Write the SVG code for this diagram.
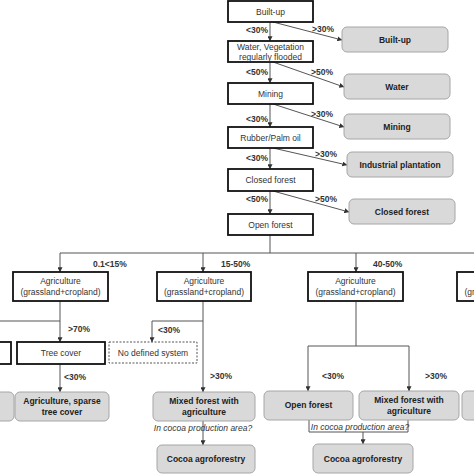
<svg xmlns="http://www.w3.org/2000/svg" width="474" height="474" viewBox="0 0 474 474">
<defs>
<marker id="a" viewBox="0 0 8 8" refX="7.5" refY="4" markerWidth="5" markerHeight="5" orient="auto" markerUnits="userSpaceOnUse"><path d="M0,0 L8,4 L0,8 z" fill="#333"/></marker>
<style>
.b{fill:#fff;stroke:#111;stroke-width:1.8}
.g{fill:#d9d9d9;stroke:#a6a6a6;stroke-width:1}
.d{fill:#fff;stroke:#555;stroke-width:1;stroke-dasharray:2 1.5}
text{font-family:"Liberation Sans",Arial,sans-serif;font-size:8.5px;fill:#333;text-anchor:middle}
.bt{font-weight:bold;fill:#222}
.l{font-weight:bold;fill:#333}
.s{text-anchor:start}
.i{font-style:italic}
.c{fill:none;stroke:#555;stroke-width:1}
.ar{marker-end:url(#a)}
</style>
</defs>
<rect width="474" height="474" fill="#fff"/>
<g id="connectors">
<path class="c ar" d="M270,22V41"/>
<path class="c ar" d="M270,62V83"/>
<path class="c ar" d="M270,104V127"/>
<path class="c ar" d="M270,148V169"/>
<path class="c ar" d="M270,191V214"/>
<path class="c ar" d="M273,22L342,40"/>
<path class="c ar" d="M273,62L344,87"/>
<path class="c ar" d="M273,104L344,127"/>
<path class="c ar" d="M273,148L347,165"/>
<path class="c ar" d="M273,191L349,212"/>
<path class="c" d="M270,235V253M60,253H474"/>
<path class="c ar" d="M60,253V272"/>
<path class="c ar" d="M203,253V272"/>
<path class="c ar" d="M356,253V272"/>
<path class="c ar" d="M60,301V342"/>
<path class="c" d="M0,321H60"/>
<path class="c ar" d="M60,364V392"/>
<path class="c ar" d="M203,301V392"/>
<path class="c ar" d="M203,321H152V342"/>
<path class="c ar" d="M203,421V445"/>
<path class="c" d="M356,302V346M308,346H409"/>
<path class="c ar" d="M308,346V391"/>
<path class="c ar" d="M409,346V391"/>
<path class="c" d="M309,420V432H408V420"/>
<path class="c ar" d="M363,432V444"/>
<text class="l" x="257" y="33">&lt;30%</text>
<text class="l" x="257" y="75">&lt;50%</text>
<text class="l" x="257" y="122">&lt;30%</text>
<text class="l" x="257" y="161">&lt;30%</text>
<text class="l" x="257" y="202">&lt;50%</text>
<text class="l" x="323" y="32">&gt;30%</text>
<text class="l" x="322" y="75">&gt;50%</text>
<text class="l" x="322" y="117">&gt;30%</text>
<text class="l" x="326" y="157">&gt;30%</text>
<text class="l" x="326" y="202">&gt;50%</text>
<text class="l s" x="93" y="267">0.1&lt;15%</text>
<text class="l s" x="221" y="267">15-50%</text>
<text class="l s" x="373" y="267">40-50%</text>
<text class="l s" x="68" y="332">&gt;70%</text>
<text class="l s" x="64" y="380">&lt;30%</text>
<text class="l s" x="158" y="333">&lt;30%</text>
<text class="l s" x="210" y="379">&gt;30%</text>
<text class="l s" x="322" y="379">&lt;30%</text>
<text class="l s" x="425" y="379">&gt;30%</text>
<text class="i" x="203" y="431">In cocoa production area?</text>
<text class="i" x="360" y="430">In cocoa production area?</text>
</g>
<g id="n-builtup"><rect class="b" x="228" y="1" width="85" height="21"/><text x="270.5" y="15">Built-up</text></g>
<g id="n-water"><rect class="b" x="228" y="41" width="85" height="21"/><text x="270.5" y="50">Water, Vegetation</text><text x="270.5" y="60">regularly flooded</text></g>
<g id="n-mining"><rect class="b" x="228" y="83" width="85" height="21"/><text x="270.5" y="97">Mining</text></g>
<g id="n-rubber"><rect class="b" x="228" y="127" width="85" height="21"/><text x="270.5" y="141">Rubber/Palm oil</text></g>
<g id="n-closed"><rect class="b" x="228" y="169" width="85" height="22"/><text x="270.5" y="183">Closed forest</text></g>
<g id="n-open"><rect class="b" x="228" y="214" width="85" height="21"/><text x="270.5" y="228">Open forest</text></g>
<g id="r-builtup"><rect class="g" x="342" y="27" width="106" height="25" rx="5"/><text class="bt" x="395" y="43">Built-up</text></g>
<g id="r-water"><rect class="g" x="344" y="74" width="106" height="25" rx="5"/><text class="bt" x="397" y="90">Water</text></g>
<g id="r-mining"><rect class="g" x="344" y="114" width="106" height="25" rx="5"/><text class="bt" x="397" y="130">Mining</text></g>
<g id="r-industrial"><rect class="g" x="347" y="152" width="106" height="25" rx="5"/><text class="bt" x="400" y="168">Industrial plantation</text></g>
<g id="r-closed"><rect class="g" x="349" y="199" width="106" height="25" rx="5"/><text class="bt" x="402" y="215">Closed forest</text></g>
<g id="n-agri1"><rect class="b" x="13" y="272" width="95" height="29"/><text x="60.5" y="284">Agriculture</text><text x="60.5" y="295">(grassland+cropland)</text></g>
<g id="n-agri2"><rect class="b" x="157" y="272" width="94" height="29"/><text x="204" y="284">Agriculture</text><text x="204" y="295">(grassland+cropland)</text></g>
<g id="n-agri3"><rect class="b" x="308" y="272" width="95" height="29"/><text x="355.5" y="284">Agriculture</text><text x="355.5" y="295">(grassland+cropland)</text></g>
<g id="n-agri4"><rect class="b" x="457" y="272" width="95" height="29"/><text x="504.5" y="284">Agriculture</text><text x="504.5" y="295">(grassland+cropland)</text></g>
<g id="n-leftcut"><rect class="b" x="-80" y="342" width="91" height="22"/></g>
<g id="n-treecover"><rect class="b" x="17" y="342" width="88" height="22"/><text x="61" y="356">Tree cover</text></g>
<g id="n-nodefined"><rect class="d" x="109" y="342" width="88" height="21"/><text x="153" y="356">No defined system</text></g>
<g id="r-leftcut"><rect class="g" x="-80" y="392" width="94" height="29" rx="5"/></g>
<g id="r-sparse"><rect class="g" x="15" y="392" width="94" height="29" rx="5"/><text class="bt" x="62" y="404">Agriculture, sparse</text><text class="bt" x="62" y="415">tree cover</text></g>
<g id="r-mixed1"><rect class="g" x="153" y="392" width="102" height="29" rx="5"/><text class="bt" x="204" y="404">Mixed forest with</text><text class="bt" x="204" y="415">agriculture</text></g>
<g id="r-openforest"><rect class="g" x="264" y="391" width="89" height="29" rx="5"/><text class="bt" x="308.5" y="408">Open forest</text></g>
<g id="r-mixed2"><rect class="g" x="359" y="391" width="100" height="29" rx="5"/><text class="bt" x="409" y="403">Mixed forest with</text><text class="bt" x="409" y="414">agriculture</text></g>
<g id="r-rightcut"><rect class="g" x="462" y="391" width="100" height="29" rx="5"/></g>
<g id="r-cocoa1"><rect class="g" x="157" y="445" width="98" height="28" rx="5"/><text class="bt" x="206" y="462">Cocoa agroforestry</text></g>
<g id="r-cocoa2"><rect class="g" x="313" y="444" width="100" height="29" rx="5"/><text class="bt" x="363" y="462">Cocoa agroforestry</text></g>
</svg>
